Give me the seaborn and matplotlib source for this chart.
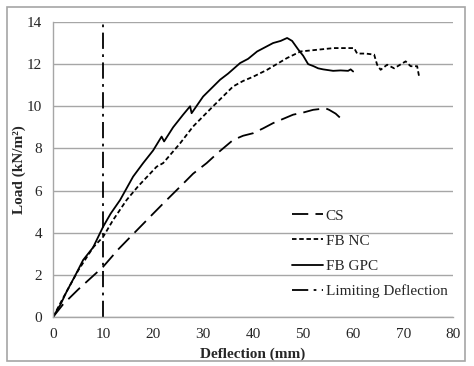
import matplotlib
matplotlib.use("Agg")
import matplotlib.pyplot as plt
import seaborn as sns
import pandas as pd
from matplotlib.patches import Rectangle

sns.set_theme(style="white")
plt.rcParams['font.family'] = ['Liberation Serif', 'DejaVu Serif']

# Data
cs_x = [0, 2, 5, 10, 13, 16.7, 20, 22.5, 25.4, 28, 30.7, 33, 36, 38, 40, 42, 44, 46, 48, 50, 52, 54.5, 55.2, 56.5, 57.5]
cs_y = [0, 0.6, 1.3, 2.38, 3.2, 4.1, 4.9, 5.5, 6.18, 6.8, 7.3, 7.8, 8.4, 8.6, 8.72, 8.95, 9.2, 9.4, 9.6, 9.7, 9.83, 9.9, 9.83, 9.65, 9.43]

fbnc_x = [0, 2, 5, 8, 10, 12, 14.7, 17, 20.7, 22, 25.4, 28, 32, 36, 38, 40, 42.8, 46.8, 49.5, 52.8, 56.1, 60.2, 60.8, 62.5, 64.2, 64.8, 65.5, 66.8, 68.2, 70.5, 71.5, 72.8, 73.2]
fbnc_y = [0, 0.9, 2.2, 3.3, 3.8, 4.6, 5.55, 6.2, 7.13, 7.3, 8.24, 9.04, 10.0, 10.94, 11.2, 11.4, 11.73, 12.29, 12.6, 12.68, 12.76, 12.76, 12.5, 12.5, 12.45, 11.97, 11.73, 11.97, 11.8, 12.13, 11.9, 11.9, 11.4]

fbgpc_x = [0, 1.5, 2.7, 4.5, 6, 8, 10, 11.5, 13.4, 16, 18, 20, 21.7, 22.2, 24, 26, 27.4, 27.7, 30, 33.4, 35, 37.4, 39, 40.8, 44, 45.5, 46.8, 47.8, 49, 50, 51, 52.1, 53, 54, 56, 57.5, 59, 59.5, 60]
fbgpc_y = [0, 0.6, 1.2, 2.0, 2.7, 3.3, 4.28, 4.9, 5.55, 6.66, 7.3, 7.9, 8.56, 8.33, 9.0, 9.6, 10.0, 9.67, 10.46, 11.26, 11.55, 12.05, 12.25, 12.6, 13.0, 13.1, 13.24, 13.1, 12.7, 12.4, 12.0, 11.9, 11.8, 11.75, 11.68, 11.7, 11.68, 11.75, 11.65]

limit_x = [10, 10]
limit_y = [0, 14]

series = {
    "CS": (cs_x, cs_y, (9, 4)),
    "FB NC": (fbnc_x, fbnc_y, (2.5, 1.5)),
    "FB GPC": (fbgpc_x, fbgpc_y, ""),
    "Limiting Deflection": (limit_x, limit_y, (9, 3, 1.5, 3)),
}

frames = []
for name, (xs, ys, _) in series.items():
    frames.append(pd.DataFrame({"Deflection": xs, "Load": ys, "Series": name}))
df = pd.concat(frames, ignore_index=True)

fig = plt.figure(figsize=(4.74, 3.66), dpi=100)
ax = fig.add_axes([0.112, 0.134, 0.844, 0.806])

sns.lineplot(data=df, x="Deflection", y="Load", hue="Series", style="Series",
             palette={k: "black" for k in series},
             dashes={k: v[2] for k, v in series.items()},
             sort=False, estimator=None, linewidth=1.3, ax=ax, legend=True)

ax.set_xlim(0, 80)
ax.set_ylim(0, 14)
ax.set_xticks(range(0, 81, 10))
ax.set_yticks(range(0, 15, 2))
ax.yaxis.grid(True, color="#a6a6a6", linewidth=1.0)
ax.set_axisbelow(True)
for s in ["top", "right"]:
    ax.spines[s].set_visible(False)
for s in ["left", "bottom"]:
    ax.spines[s].set_color("#a6a6a6")
    ax.spines[s].set_linewidth(1.0)
ax.tick_params(axis="x", direction="out", length=4, color="#a6a6a6", labelsize=11, pad=4)
ax.tick_params(axis="y", direction="out", length=4, color="#a6a6a6", labelsize=11, pad=4)
ax.set_xlabel("Deflection (mm)", fontsize=11, fontweight="bold")
ax.set_ylabel("Load (kN/m²)", fontsize=11, fontweight="bold")
ax.xaxis.set_label_coords(0.5, -0.105)
ax.yaxis.set_label_coords(-0.068, 0.5)

leg = ax.legend(loc="upper left", bbox_to_anchor=(0.5825, 0.387), frameon=False, fontsize=11,
                handlelength=2.0, handletextpad=0.2, labelspacing=0.75, borderaxespad=0)
for h in leg.get_lines():
    h.set_linewidth(1.3)

fig.patches.append(Rectangle((7 / 474, 1 - 361 / 366), 458 / 474, 354 / 366,
                             transform=fig.transFigure, fill=False,
                             edgecolor="#a6a6a6", linewidth=1.2))

fig.savefig("out.png", dpi=100)
